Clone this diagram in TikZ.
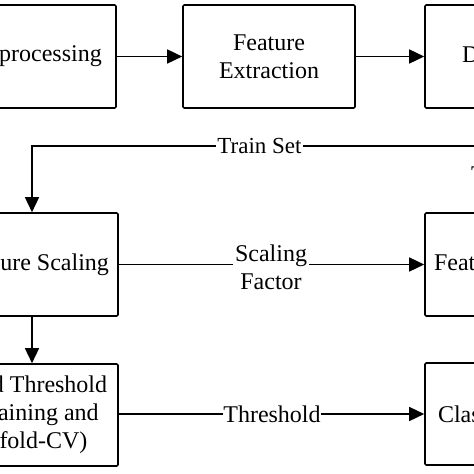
\documentclass[tikz,border=0pt]{standalone}
\usepackage{fontspec}
\setmainfont{Liberation Serif}
\usetikzlibrary{arrows.meta}
\begin{document}
\begin{tikzpicture}[x=1pt,y=-1pt,
  every node/.style={font=\fontsize{24}{28}\selectfont},
  stepbox/.style={draw, line width=1.6pt, rounded corners=1.2pt, fill=white, align=center, inner sep=0pt, minimum height=103pt},
  arr/.style={line width=1.5pt, -{Triangle[length=15pt,width=14pt]}},
  lab/.style={fill=white, inner sep=1pt, align=center}]
\useasboundingbox (0,0) rectangle (474,474);
% top row
\node[stepbox, minimum width=163pt] (pre) at (34.5,56.5) {Preprocessing};
\node[stepbox, minimum width=172pt] (fe) at (269,56.5) {Feature\\Extraction};
\node[stepbox, minimum width=171pt] (ds) at (510.5,56.5) {Data Split};
% second row
\node[stepbox, minimum width=168pt] (fs) at (34,264.5) {Feature Scaling};
\node[stepbox, minimum width=168pt] (fs2) at (509,264.5) {Feature Scaling};
% third row
\node[stepbox, minimum width=169pt, minimum height=102pt] (th) at (33.5,415) {Find Threshold\\(Training and\\k-fold-CV)};
\node[stepbox, minimum width=158pt, minimum height=102pt] (cl) at (504,414) {Classification};
% connectors
\draw[arr] (pre) -- (fe);
\draw[arr] (fe) -- (ds);
\coordinate (tsR) at (490,146);
\coordinate (tsL) at (32,146);
\draw[arr] (tsR) -- (tsL) -- (tsL |- fs.north);
\node[lab, font=\fontsize{23}{28}\selectfont] (tsl) at (259.5,146) {Train Set};
\node[anchor=west, inner sep=0pt] (tst) at (471,175) {Test Set};
\draw[arr] (fs) -- (fs2);
\node[lab, inner sep=2.5pt] (sf) at (271,267) {Scaling\\Factor};
\draw[arr] (tsL |- fs.south) -- (tsL |- th.north);
\draw[arr] (th.east |- cl.west) -- (cl.west);
\node[lab, inner sep=0.5pt] (thl) at (272,414) {Threshold};
\end{tikzpicture}
\end{document}
